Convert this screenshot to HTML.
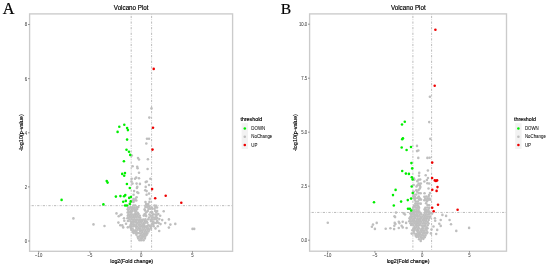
<!DOCTYPE html>
<html><head><meta charset="utf-8"><title>Volcano Plots</title>
<style>html,body{margin:0;padding:0;background:#fff;overflow:hidden;}svg{display:block;}</style>
</head><body>
<svg width="550" height="268" viewBox="0 0 550 268">
<style>
text{font-family:"Liberation Sans",Arial,sans-serif;}
.tk{font-size:4.27px;fill:#4d4d4d;stroke:#4d4d4d;stroke-width:0.06px;}
.ti{font-size:6.7px;fill:#000;stroke:#000;stroke-width:0.18px;}
.at{font-size:5.33px;fill:#000;stroke:#000;stroke-width:0.15px;}
.lt{font-size:5.33px;fill:#000;stroke:#000;stroke-width:0.15px;}
.lx{font-size:4.4px;fill:#111;stroke:#111;stroke-width:0.05px;}
.pl{font-family:"Liberation Serif",serif;font-size:16.2px;fill:#000;stroke:#000;stroke-width:0.2px;}
</style>
<rect width="550" height="268" fill="#fff"/>
<text x="2.7" y="13.7" class="pl">A</text>
<text x="280.8" y="13.5" class="pl" style="font-size:15.6px">B</text>
<line x1="131.2" y1="13.9" x2="131.2" y2="251.3" stroke="#8c8c8c" stroke-width="0.6" stroke-dasharray="0.6 1.4 2.2 1.4"/>
<line x1="151.6" y1="13.9" x2="151.6" y2="251.3" stroke="#8c8c8c" stroke-width="0.6" stroke-dasharray="0.6 1.4 2.2 1.4"/>
<line x1="29.6" y1="205.65" x2="232.6" y2="205.65" stroke="#8c8c8c" stroke-width="0.6" stroke-dasharray="0.6 1.4 2.2 1.4"/>
<circle cx="136.61" cy="197.2" r="1.28" fill="#bebebe"/>
<circle cx="133.45" cy="198.92" r="1.28" fill="#bebebe"/>
<circle cx="135.46" cy="198.9" r="1.28" fill="#bebebe"/>
<circle cx="132.53" cy="200.79" r="1.28" fill="#bebebe"/>
<circle cx="134.3" cy="200.43" r="1.28" fill="#bebebe"/>
<circle cx="136.31" cy="200.44" r="1.28" fill="#bebebe"/>
<circle cx="131.31" cy="202.03" r="1.28" fill="#bebebe"/>
<circle cx="133.47" cy="202.07" r="1.28" fill="#bebebe"/>
<circle cx="149.84" cy="198.81" r="1.28" fill="#bebebe"/>
<circle cx="145.49" cy="202.12" r="1.28" fill="#bebebe"/>
<circle cx="149.47" cy="201.89" r="1.28" fill="#bebebe"/>
<circle cx="146.16" cy="204.14" r="1.28" fill="#bebebe"/>
<circle cx="148.23" cy="204.05" r="1.28" fill="#bebebe"/>
<circle cx="146.68" cy="205.51" r="1.28" fill="#bebebe"/>
<circle cx="148.47" cy="205.72" r="1.28" fill="#bebebe"/>
<circle cx="154.54" cy="205.62" r="1.28" fill="#bebebe"/>
<circle cx="156.2" cy="205.83" r="1.28" fill="#bebebe"/>
<circle cx="145.41" cy="207.05" r="1.28" fill="#bebebe"/>
<circle cx="147.33" cy="207.29" r="1.28" fill="#bebebe"/>
<circle cx="149.49" cy="206.93" r="1.28" fill="#bebebe"/>
<circle cx="151.73" cy="207.5" r="1.28" fill="#bebebe"/>
<circle cx="155.57" cy="207.18" r="1.28" fill="#bebebe"/>
<circle cx="157.06" cy="207.51" r="1.28" fill="#bebebe"/>
<circle cx="144.62" cy="209.3" r="1.28" fill="#bebebe"/>
<circle cx="148.54" cy="208.99" r="1.28" fill="#bebebe"/>
<circle cx="150.29" cy="208.77" r="1.28" fill="#bebebe"/>
<circle cx="152.35" cy="208.77" r="1.28" fill="#bebebe"/>
<circle cx="154.52" cy="208.84" r="1.28" fill="#bebebe"/>
<circle cx="145.06" cy="210.51" r="1.28" fill="#bebebe"/>
<circle cx="147.74" cy="210.92" r="1.28" fill="#bebebe"/>
<circle cx="155.21" cy="210.88" r="1.28" fill="#bebebe"/>
<circle cx="157.17" cy="211.01" r="1.28" fill="#bebebe"/>
<circle cx="146.31" cy="212.35" r="1.28" fill="#bebebe"/>
<circle cx="150.67" cy="212.2" r="1.28" fill="#bebebe"/>
<circle cx="152.12" cy="212.14" r="1.28" fill="#bebebe"/>
<circle cx="156.29" cy="212.54" r="1.28" fill="#bebebe"/>
<circle cx="145.31" cy="214.25" r="1.28" fill="#bebebe"/>
<circle cx="149.45" cy="214.5" r="1.28" fill="#bebebe"/>
<circle cx="153.06" cy="214.32" r="1.28" fill="#bebebe"/>
<circle cx="155.13" cy="214.47" r="1.28" fill="#bebebe"/>
<circle cx="157.22" cy="214.54" r="1.28" fill="#bebebe"/>
<circle cx="146.22" cy="216.11" r="1.28" fill="#bebebe"/>
<circle cx="150.69" cy="215.8" r="1.28" fill="#bebebe"/>
<circle cx="152.38" cy="215.66" r="1.28" fill="#bebebe"/>
<circle cx="156.26" cy="216.01" r="1.28" fill="#bebebe"/>
<circle cx="149.13" cy="217.48" r="1.28" fill="#bebebe"/>
<circle cx="151.74" cy="217.71" r="1.28" fill="#bebebe"/>
<circle cx="153.51" cy="217.51" r="1.28" fill="#bebebe"/>
<circle cx="155.27" cy="217.5" r="1.28" fill="#bebebe"/>
<circle cx="157.25" cy="218.02" r="1.28" fill="#bebebe"/>
<circle cx="148.26" cy="219.3" r="1.28" fill="#bebebe"/>
<circle cx="150.64" cy="219.7" r="1.28" fill="#bebebe"/>
<circle cx="152.28" cy="219.45" r="1.28" fill="#bebebe"/>
<circle cx="154.47" cy="219.24" r="1.28" fill="#bebebe"/>
<circle cx="156.22" cy="219.12" r="1.28" fill="#bebebe"/>
<circle cx="151.16" cy="221.16" r="1.28" fill="#bebebe"/>
<circle cx="153.1" cy="221.47" r="1.28" fill="#bebebe"/>
<circle cx="157.27" cy="220.88" r="1.28" fill="#bebebe"/>
<circle cx="152.69" cy="223.14" r="1.28" fill="#bebebe"/>
<circle cx="154.53" cy="222.67" r="1.28" fill="#bebebe"/>
<circle cx="156.16" cy="223.05" r="1.28" fill="#bebebe"/>
<circle cx="151.65" cy="224.61" r="1.28" fill="#bebebe"/>
<circle cx="153.29" cy="224.47" r="1.28" fill="#bebebe"/>
<circle cx="133.43" cy="205.58" r="1.28" fill="#bebebe"/>
<circle cx="135.16" cy="205.52" r="1.28" fill="#bebebe"/>
<circle cx="128.26" cy="207.43" r="1.28" fill="#bebebe"/>
<circle cx="130.37" cy="207.37" r="1.28" fill="#bebebe"/>
<circle cx="132.41" cy="207.38" r="1.28" fill="#bebebe"/>
<circle cx="134.57" cy="207.49" r="1.28" fill="#bebebe"/>
<circle cx="136.82" cy="207.29" r="1.28" fill="#bebebe"/>
<circle cx="138.33" cy="207.04" r="1.28" fill="#bebebe"/>
<circle cx="127.69" cy="209.22" r="1.28" fill="#bebebe"/>
<circle cx="129.64" cy="208.94" r="1.28" fill="#bebebe"/>
<circle cx="131.83" cy="208.9" r="1.28" fill="#bebebe"/>
<circle cx="133.45" cy="208.75" r="1.28" fill="#bebebe"/>
<circle cx="135.24" cy="209.27" r="1.28" fill="#bebebe"/>
<circle cx="137.23" cy="209.05" r="1.28" fill="#bebebe"/>
<circle cx="128.33" cy="210.85" r="1.28" fill="#bebebe"/>
<circle cx="130.72" cy="211.05" r="1.28" fill="#bebebe"/>
<circle cx="132.49" cy="210.97" r="1.28" fill="#bebebe"/>
<circle cx="134.55" cy="210.64" r="1.28" fill="#bebebe"/>
<circle cx="136.23" cy="210.94" r="1.28" fill="#bebebe"/>
<circle cx="127.63" cy="212.45" r="1.28" fill="#bebebe"/>
<circle cx="129.41" cy="212.25" r="1.28" fill="#bebebe"/>
<circle cx="131.34" cy="212.53" r="1.28" fill="#bebebe"/>
<circle cx="135.47" cy="212.69" r="1.28" fill="#bebebe"/>
<circle cx="137.67" cy="212.8" r="1.28" fill="#bebebe"/>
<circle cx="128.6" cy="214.29" r="1.28" fill="#bebebe"/>
<circle cx="130.59" cy="214.29" r="1.28" fill="#bebebe"/>
<circle cx="132.7" cy="214.44" r="1.28" fill="#bebebe"/>
<circle cx="134.72" cy="214.27" r="1.28" fill="#bebebe"/>
<circle cx="136.34" cy="214.35" r="1.28" fill="#bebebe"/>
<circle cx="138.53" cy="213.96" r="1.28" fill="#bebebe"/>
<circle cx="144.67" cy="214.15" r="1.28" fill="#bebebe"/>
<circle cx="127.77" cy="215.78" r="1.28" fill="#bebebe"/>
<circle cx="129.73" cy="215.96" r="1.28" fill="#bebebe"/>
<circle cx="131.51" cy="216.11" r="1.28" fill="#bebebe"/>
<circle cx="133.61" cy="216.09" r="1.28" fill="#bebebe"/>
<circle cx="135.34" cy="216.02" r="1.28" fill="#bebebe"/>
<circle cx="137.54" cy="215.71" r="1.28" fill="#bebebe"/>
<circle cx="139.76" cy="215.82" r="1.28" fill="#bebebe"/>
<circle cx="143.74" cy="215.61" r="1.28" fill="#bebebe"/>
<circle cx="145.59" cy="215.81" r="1.28" fill="#bebebe"/>
<circle cx="128.66" cy="217.75" r="1.28" fill="#bebebe"/>
<circle cx="130.52" cy="217.43" r="1.28" fill="#bebebe"/>
<circle cx="132.65" cy="217.58" r="1.28" fill="#bebebe"/>
<circle cx="134.32" cy="217.83" r="1.28" fill="#bebebe"/>
<circle cx="136.36" cy="217.4" r="1.28" fill="#bebebe"/>
<circle cx="138.49" cy="217.4" r="1.28" fill="#bebebe"/>
<circle cx="140.19" cy="217.75" r="1.28" fill="#bebebe"/>
<circle cx="129.47" cy="219.48" r="1.28" fill="#bebebe"/>
<circle cx="131.65" cy="219.3" r="1.28" fill="#bebebe"/>
<circle cx="133.79" cy="219.77" r="1.28" fill="#bebebe"/>
<circle cx="135.71" cy="219.67" r="1.28" fill="#bebebe"/>
<circle cx="137.42" cy="219.48" r="1.28" fill="#bebebe"/>
<circle cx="139.43" cy="219.69" r="1.28" fill="#bebebe"/>
<circle cx="141.26" cy="219.71" r="1.28" fill="#bebebe"/>
<circle cx="143.25" cy="219.54" r="1.28" fill="#bebebe"/>
<circle cx="145.42" cy="219.16" r="1.28" fill="#bebebe"/>
<circle cx="130.6" cy="221.33" r="1.28" fill="#bebebe"/>
<circle cx="132.74" cy="221.27" r="1.28" fill="#bebebe"/>
<circle cx="134.59" cy="221.49" r="1.28" fill="#bebebe"/>
<circle cx="136.32" cy="220.85" r="1.28" fill="#bebebe"/>
<circle cx="138.56" cy="221.05" r="1.28" fill="#bebebe"/>
<circle cx="140.54" cy="221.18" r="1.28" fill="#bebebe"/>
<circle cx="142.4" cy="221.1" r="1.28" fill="#bebebe"/>
<circle cx="144.77" cy="221.11" r="1.28" fill="#bebebe"/>
<circle cx="146.65" cy="221.33" r="1.28" fill="#bebebe"/>
<circle cx="131.18" cy="222.92" r="1.28" fill="#bebebe"/>
<circle cx="133.24" cy="222.83" r="1.28" fill="#bebebe"/>
<circle cx="135.77" cy="222.57" r="1.28" fill="#bebebe"/>
<circle cx="137.21" cy="223.11" r="1.28" fill="#bebebe"/>
<circle cx="139.17" cy="222.82" r="1.28" fill="#bebebe"/>
<circle cx="141.37" cy="222.64" r="1.28" fill="#bebebe"/>
<circle cx="143.71" cy="223.15" r="1.28" fill="#bebebe"/>
<circle cx="145.45" cy="222.72" r="1.28" fill="#bebebe"/>
<circle cx="147.38" cy="222.79" r="1.28" fill="#bebebe"/>
<circle cx="130.64" cy="224.66" r="1.28" fill="#bebebe"/>
<circle cx="132.73" cy="224.49" r="1.28" fill="#bebebe"/>
<circle cx="134.41" cy="224.65" r="1.28" fill="#bebebe"/>
<circle cx="136.39" cy="224.69" r="1.28" fill="#bebebe"/>
<circle cx="138.72" cy="224.75" r="1.28" fill="#bebebe"/>
<circle cx="140.36" cy="224.54" r="1.28" fill="#bebebe"/>
<circle cx="142.67" cy="224.64" r="1.28" fill="#bebebe"/>
<circle cx="144.25" cy="224.93" r="1.28" fill="#bebebe"/>
<circle cx="148.49" cy="224.93" r="1.28" fill="#bebebe"/>
<circle cx="129.84" cy="226.58" r="1.28" fill="#bebebe"/>
<circle cx="131.67" cy="226.28" r="1.28" fill="#bebebe"/>
<circle cx="133.6" cy="226.31" r="1.28" fill="#bebebe"/>
<circle cx="135.84" cy="226.4" r="1.28" fill="#bebebe"/>
<circle cx="137.25" cy="226.51" r="1.28" fill="#bebebe"/>
<circle cx="139.78" cy="226.16" r="1.28" fill="#bebebe"/>
<circle cx="141.66" cy="226.07" r="1.28" fill="#bebebe"/>
<circle cx="143.53" cy="226.22" r="1.28" fill="#bebebe"/>
<circle cx="145.33" cy="226.47" r="1.28" fill="#bebebe"/>
<circle cx="147.2" cy="226.08" r="1.28" fill="#bebebe"/>
<circle cx="149.6" cy="226.15" r="1.28" fill="#bebebe"/>
<circle cx="151.17" cy="226.29" r="1.28" fill="#bebebe"/>
<circle cx="153.65" cy="226.23" r="1.28" fill="#bebebe"/>
<circle cx="130.77" cy="228.07" r="1.28" fill="#bebebe"/>
<circle cx="132.53" cy="228.43" r="1.28" fill="#bebebe"/>
<circle cx="136.33" cy="227.91" r="1.28" fill="#bebebe"/>
<circle cx="138.69" cy="228.13" r="1.28" fill="#bebebe"/>
<circle cx="140.43" cy="228.39" r="1.28" fill="#bebebe"/>
<circle cx="142.56" cy="227.8" r="1.28" fill="#bebebe"/>
<circle cx="144.47" cy="227.9" r="1.28" fill="#bebebe"/>
<circle cx="146.63" cy="227.77" r="1.28" fill="#bebebe"/>
<circle cx="148.36" cy="228.39" r="1.28" fill="#bebebe"/>
<circle cx="150.83" cy="228.15" r="1.28" fill="#bebebe"/>
<circle cx="131.36" cy="229.86" r="1.28" fill="#bebebe"/>
<circle cx="133.53" cy="230.19" r="1.28" fill="#bebebe"/>
<circle cx="135.6" cy="230.21" r="1.28" fill="#bebebe"/>
<circle cx="137.55" cy="229.77" r="1.28" fill="#bebebe"/>
<circle cx="139.81" cy="230.14" r="1.28" fill="#bebebe"/>
<circle cx="141.78" cy="230.16" r="1.28" fill="#bebebe"/>
<circle cx="143.42" cy="229.84" r="1.28" fill="#bebebe"/>
<circle cx="145.41" cy="230.03" r="1.28" fill="#bebebe"/>
<circle cx="147.39" cy="229.83" r="1.28" fill="#bebebe"/>
<circle cx="149.4" cy="229.8" r="1.28" fill="#bebebe"/>
<circle cx="132.67" cy="231.73" r="1.28" fill="#bebebe"/>
<circle cx="134.69" cy="231.59" r="1.28" fill="#bebebe"/>
<circle cx="136.49" cy="231.93" r="1.28" fill="#bebebe"/>
<circle cx="140.31" cy="231.27" r="1.28" fill="#bebebe"/>
<circle cx="142.49" cy="231.92" r="1.28" fill="#bebebe"/>
<circle cx="144.66" cy="231.83" r="1.28" fill="#bebebe"/>
<circle cx="146.58" cy="231.95" r="1.28" fill="#bebebe"/>
<circle cx="148.52" cy="231.49" r="1.28" fill="#bebebe"/>
<circle cx="133.62" cy="233.05" r="1.28" fill="#bebebe"/>
<circle cx="135.62" cy="233.2" r="1.28" fill="#bebebe"/>
<circle cx="137.78" cy="233.07" r="1.28" fill="#bebebe"/>
<circle cx="139.22" cy="233.26" r="1.28" fill="#bebebe"/>
<circle cx="141.29" cy="233.35" r="1.28" fill="#bebebe"/>
<circle cx="143.77" cy="233.68" r="1.28" fill="#bebebe"/>
<circle cx="145.49" cy="233.62" r="1.28" fill="#bebebe"/>
<circle cx="147.3" cy="233.52" r="1.28" fill="#bebebe"/>
<circle cx="136.44" cy="234.82" r="1.28" fill="#bebebe"/>
<circle cx="140.52" cy="235.16" r="1.28" fill="#bebebe"/>
<circle cx="142.44" cy="234.93" r="1.28" fill="#bebebe"/>
<circle cx="144.34" cy="234.88" r="1.28" fill="#bebebe"/>
<circle cx="146.48" cy="234.97" r="1.28" fill="#bebebe"/>
<circle cx="137.64" cy="236.86" r="1.28" fill="#bebebe"/>
<circle cx="139.31" cy="236.61" r="1.28" fill="#bebebe"/>
<circle cx="141.77" cy="236.77" r="1.28" fill="#bebebe"/>
<circle cx="143.16" cy="236.68" r="1.28" fill="#bebebe"/>
<circle cx="145.21" cy="236.63" r="1.28" fill="#bebebe"/>
<circle cx="138.25" cy="238.49" r="1.28" fill="#bebebe"/>
<circle cx="140.6" cy="238.38" r="1.28" fill="#bebebe"/>
<circle cx="142.34" cy="238.57" r="1.28" fill="#bebebe"/>
<circle cx="144.81" cy="238.46" r="1.28" fill="#bebebe"/>
<circle cx="139.52" cy="240.28" r="1.28" fill="#bebebe"/>
<circle cx="141.22" cy="240.21" r="1.28" fill="#bebebe"/>
<circle cx="143.53" cy="240.33" r="1.28" fill="#bebebe"/>
<circle cx="158.32" cy="213.96" r="1.28" fill="#bebebe"/>
<circle cx="159.27" cy="219.11" r="1.28" fill="#bebebe"/>
<circle cx="157.17" cy="222.14" r="1.28" fill="#bebebe"/>
<circle cx="160.53" cy="224.1" r="1.28" fill="#bebebe"/>
<circle cx="157.8" cy="226.24" r="1.28" fill="#bebebe"/>
<circle cx="126.04" cy="223.66" r="1.28" fill="#bebebe"/>
<circle cx="127.81" cy="227.37" r="1.28" fill="#bebebe"/>
<circle cx="151.5" cy="108.4" r="1.28" fill="#bebebe"/>
<circle cx="149.3" cy="117.6" r="1.28" fill="#bebebe"/>
<circle cx="147" cy="138.8" r="1.28" fill="#bebebe"/>
<circle cx="149" cy="138.8" r="1.28" fill="#bebebe"/>
<circle cx="146.3" cy="143.5" r="1.28" fill="#bebebe"/>
<circle cx="131.8" cy="155.5" r="1.28" fill="#bebebe"/>
<circle cx="138" cy="158" r="1.28" fill="#bebebe"/>
<circle cx="139" cy="159.5" r="1.28" fill="#bebebe"/>
<circle cx="147.9" cy="159.2" r="1.28" fill="#bebebe"/>
<circle cx="132.6" cy="166.3" r="1.28" fill="#bebebe"/>
<circle cx="137.2" cy="166.7" r="1.28" fill="#bebebe"/>
<circle cx="137.6" cy="168.3" r="1.28" fill="#bebebe"/>
<circle cx="147.6" cy="169" r="1.28" fill="#bebebe"/>
<circle cx="139" cy="172.7" r="1.28" fill="#bebebe"/>
<circle cx="131.7" cy="178.7" r="1.28" fill="#bebebe"/>
<circle cx="135" cy="178.7" r="1.28" fill="#bebebe"/>
<circle cx="136.2" cy="177.6" r="1.28" fill="#bebebe"/>
<circle cx="139" cy="178.3" r="1.28" fill="#bebebe"/>
<circle cx="150.4" cy="178.7" r="1.28" fill="#bebebe"/>
<circle cx="131.5" cy="181.5" r="1.28" fill="#bebebe"/>
<circle cx="132.5" cy="183.6" r="1.28" fill="#bebebe"/>
<circle cx="136.6" cy="183.6" r="1.28" fill="#bebebe"/>
<circle cx="139.9" cy="183.9" r="1.28" fill="#bebebe"/>
<circle cx="145.7" cy="182.1" r="1.28" fill="#bebebe"/>
<circle cx="146.8" cy="181.6" r="1.28" fill="#bebebe"/>
<circle cx="149" cy="185" r="1.28" fill="#bebebe"/>
<circle cx="137.3" cy="186.9" r="1.28" fill="#bebebe"/>
<circle cx="136.9" cy="188" r="1.28" fill="#bebebe"/>
<circle cx="145.7" cy="186.9" r="1.28" fill="#bebebe"/>
<circle cx="145.2" cy="190.2" r="1.28" fill="#bebebe"/>
<circle cx="146.6" cy="191.1" r="1.28" fill="#bebebe"/>
<circle cx="134.1" cy="191.1" r="1.28" fill="#bebebe"/>
<circle cx="137.3" cy="192.3" r="1.28" fill="#bebebe"/>
<circle cx="138.3" cy="193" r="1.28" fill="#bebebe"/>
<circle cx="149" cy="193.6" r="1.28" fill="#bebebe"/>
<circle cx="146.6" cy="194.8" r="1.28" fill="#bebebe"/>
<circle cx="133.6" cy="194.8" r="1.28" fill="#bebebe"/>
<circle cx="73.4" cy="218.4" r="1.28" fill="#bebebe"/>
<circle cx="93.5" cy="224.4" r="1.28" fill="#bebebe"/>
<circle cx="104.5" cy="226" r="1.28" fill="#bebebe"/>
<circle cx="116.5" cy="213.4" r="1.28" fill="#bebebe"/>
<circle cx="118.7" cy="216.2" r="1.28" fill="#bebebe"/>
<circle cx="120.6" cy="215.1" r="1.28" fill="#bebebe"/>
<circle cx="121.5" cy="214.5" r="1.28" fill="#bebebe"/>
<circle cx="124" cy="218.2" r="1.28" fill="#bebebe"/>
<circle cx="127.4" cy="218.2" r="1.28" fill="#bebebe"/>
<circle cx="124.3" cy="220.7" r="1.28" fill="#bebebe"/>
<circle cx="127.9" cy="221" r="1.28" fill="#bebebe"/>
<circle cx="118.4" cy="222.6" r="1.28" fill="#bebebe"/>
<circle cx="120.3" cy="225.2" r="1.28" fill="#bebebe"/>
<circle cx="122.3" cy="225.4" r="1.28" fill="#bebebe"/>
<circle cx="123.2" cy="227.4" r="1.28" fill="#bebebe"/>
<circle cx="163.7" cy="211.2" r="1.28" fill="#bebebe"/>
<circle cx="160.2" cy="215.7" r="1.28" fill="#bebebe"/>
<circle cx="168.9" cy="219.4" r="1.28" fill="#bebebe"/>
<circle cx="162.2" cy="220.1" r="1.28" fill="#bebebe"/>
<circle cx="165.2" cy="223.1" r="1.28" fill="#bebebe"/>
<circle cx="175.3" cy="223.9" r="1.28" fill="#bebebe"/>
<circle cx="170.4" cy="224.6" r="1.28" fill="#bebebe"/>
<circle cx="168.9" cy="227.6" r="1.28" fill="#bebebe"/>
<circle cx="158.7" cy="223.1" r="1.28" fill="#bebebe"/>
<circle cx="159.2" cy="231" r="1.28" fill="#bebebe"/>
<circle cx="155.5" cy="228.4" r="1.28" fill="#bebebe"/>
<circle cx="192.5" cy="228.9" r="1.28" fill="#bebebe"/>
<circle cx="194.2" cy="228.9" r="1.28" fill="#bebebe"/>
<circle cx="119.3" cy="126.7" r="1.28" fill="#00ee00"/>
<circle cx="124.3" cy="124.8" r="1.28" fill="#00ee00"/>
<circle cx="127.1" cy="128" r="1.28" fill="#00ee00"/>
<circle cx="127.9" cy="130.1" r="1.28" fill="#00ee00"/>
<circle cx="117.6" cy="131.9" r="1.28" fill="#00ee00"/>
<circle cx="127.1" cy="139.6" r="1.28" fill="#00ee00"/>
<circle cx="126.5" cy="149.8" r="1.28" fill="#00ee00"/>
<circle cx="129" cy="151.7" r="1.28" fill="#00ee00"/>
<circle cx="130.2" cy="154.9" r="1.28" fill="#00ee00"/>
<circle cx="123.9" cy="161.3" r="1.28" fill="#00ee00"/>
<circle cx="122.2" cy="173.9" r="1.28" fill="#00ee00"/>
<circle cx="125" cy="173.1" r="1.28" fill="#00ee00"/>
<circle cx="124.2" cy="175.8" r="1.28" fill="#00ee00"/>
<circle cx="106.7" cy="181" r="1.28" fill="#00ee00"/>
<circle cx="107.6" cy="182.6" r="1.28" fill="#00ee00"/>
<circle cx="126.9" cy="184" r="1.28" fill="#00ee00"/>
<circle cx="129.8" cy="188" r="1.28" fill="#00ee00"/>
<circle cx="115.9" cy="196.6" r="1.28" fill="#00ee00"/>
<circle cx="120.4" cy="196.1" r="1.28" fill="#00ee00"/>
<circle cx="124.1" cy="196.2" r="1.28" fill="#00ee00"/>
<circle cx="125.3" cy="195.1" r="1.28" fill="#00ee00"/>
<circle cx="129.2" cy="197.9" r="1.28" fill="#00ee00"/>
<circle cx="131" cy="197" r="1.28" fill="#00ee00"/>
<circle cx="125.8" cy="200.9" r="1.28" fill="#00ee00"/>
<circle cx="123.2" cy="201.8" r="1.28" fill="#00ee00"/>
<circle cx="130.7" cy="201.4" r="1.28" fill="#00ee00"/>
<circle cx="129.8" cy="203.9" r="1.28" fill="#00ee00"/>
<circle cx="125.1" cy="205.5" r="1.28" fill="#00ee00"/>
<circle cx="126.9" cy="205.5" r="1.28" fill="#00ee00"/>
<circle cx="103.4" cy="204.4" r="1.28" fill="#00ee00"/>
<circle cx="61.6" cy="199.9" r="1.28" fill="#00ee00"/>
<circle cx="153.7" cy="68.9" r="1.28" fill="#ee0000"/>
<circle cx="153" cy="127.8" r="1.28" fill="#ee0000"/>
<circle cx="152.5" cy="149.6" r="1.28" fill="#ee0000"/>
<circle cx="152.1" cy="189.1" r="1.28" fill="#ee0000"/>
<circle cx="155.2" cy="198.3" r="1.28" fill="#ee0000"/>
<circle cx="165.7" cy="195.7" r="1.28" fill="#ee0000"/>
<circle cx="181.3" cy="202.7" r="1.28" fill="#ee0000"/>
<rect x="29.6" y="13.9" width="203" height="237.4" fill="none" stroke="#cbcbcb" stroke-width="1.35"/>
<line x1="38.7" y1="251.3" x2="38.7" y2="252.9" stroke="#4d4d4d" stroke-width="0.6"/>
<text x="0" y="0" class="tk" text-anchor="middle" transform="translate(38.7,257.25) scale(1,1.08)">&#8722;10</text>
<line x1="89.95" y1="251.3" x2="89.95" y2="252.9" stroke="#4d4d4d" stroke-width="0.6"/>
<text x="0" y="0" class="tk" text-anchor="middle" transform="translate(89.95,257.25) scale(1,1.08)">&#8722;5</text>
<line x1="141.2" y1="251.3" x2="141.2" y2="252.9" stroke="#4d4d4d" stroke-width="0.6"/>
<text x="0" y="0" class="tk" text-anchor="middle" transform="translate(141.2,257.25) scale(1,1.08)">0</text>
<line x1="192.45" y1="251.3" x2="192.45" y2="252.9" stroke="#4d4d4d" stroke-width="0.6"/>
<text x="0" y="0" class="tk" text-anchor="middle" transform="translate(192.45,257.25) scale(1,1.08)">5</text>
<line x1="28" y1="241" x2="29.6" y2="241" stroke="#4d4d4d" stroke-width="0.6"/>
<text x="0" y="0" class="tk" text-anchor="end" transform="translate(27.2,242.9) scale(1,1.08)">0</text>
<line x1="28" y1="186.88" x2="29.6" y2="186.88" stroke="#4d4d4d" stroke-width="0.6"/>
<text x="0" y="0" class="tk" text-anchor="end" transform="translate(27.2,188.78) scale(1,1.08)">2</text>
<line x1="28" y1="132.76" x2="29.6" y2="132.76" stroke="#4d4d4d" stroke-width="0.6"/>
<text x="0" y="0" class="tk" text-anchor="end" transform="translate(27.2,134.66) scale(1,1.08)">4</text>
<line x1="28" y1="78.64" x2="29.6" y2="78.64" stroke="#4d4d4d" stroke-width="0.6"/>
<text x="0" y="0" class="tk" text-anchor="end" transform="translate(27.2,80.54) scale(1,1.08)">6</text>
<line x1="28" y1="24.52" x2="29.6" y2="24.52" stroke="#4d4d4d" stroke-width="0.6"/>
<text x="0" y="0" class="tk" text-anchor="end" transform="translate(27.2,26.42) scale(1,1.08)">8</text>
<text x="113.8" y="9.8" class="ti" textLength="34.8" lengthAdjust="spacingAndGlyphs">Volcano Plot</text>
<text x="0" y="0" class="at" text-anchor="middle" transform="translate(131.7,263.2) scale(1,1.08)">log2(Fold change)</text>
<text x="0" y="0" class="at" style="font-size:5.52px" text-anchor="middle" transform="translate(23.3,132.8) rotate(-90)">-log10(p-value)</text>
<text x="0" y="0" class="lt" transform="translate(240.4,121.1) scale(1,1.08)">threshold</text>
<rect x="241.6" y="123.2" width="6.4" height="25.8" fill="#f2f2f2"/>
<circle cx="244.8" cy="128.5" r="1.28" fill="#00ee00"/>
<text x="0" y="0" class="lx" transform="translate(251.3,130.1) scale(1,1.08)">DOWN</text>
<circle cx="244.8" cy="136.75" r="1.28" fill="#bebebe"/>
<text x="0" y="0" class="lx" transform="translate(251.3,138.35) scale(1,1.08)">NoChange</text>
<circle cx="244.8" cy="145" r="1.28" fill="#ee0000"/>
<text x="0" y="0" class="lx" transform="translate(251.3,146.6) scale(1,1.08)">UP</text>
<line x1="412.9" y1="13.9" x2="412.9" y2="251.2" stroke="#8c8c8c" stroke-width="0.6" stroke-dasharray="0.6 1.4 2.2 1.4"/>
<line x1="431.6" y1="13.9" x2="431.6" y2="251.2" stroke="#8c8c8c" stroke-width="0.6" stroke-dasharray="0.6 1.4 2.2 1.4"/>
<line x1="309.6" y1="212.45" x2="506.5" y2="212.45" stroke="#8c8c8c" stroke-width="0.6" stroke-dasharray="0.6 1.4 2.2 1.4"/>
<circle cx="413.82" cy="178.31" r="1.28" fill="#bebebe"/>
<circle cx="414.26" cy="179.69" r="1.28" fill="#bebebe"/>
<circle cx="418.53" cy="179.7" r="1.28" fill="#bebebe"/>
<circle cx="420.18" cy="179.41" r="1.28" fill="#bebebe"/>
<circle cx="417.32" cy="181.15" r="1.28" fill="#bebebe"/>
<circle cx="418.68" cy="183.42" r="1.28" fill="#bebebe"/>
<circle cx="420.84" cy="183.54" r="1.28" fill="#bebebe"/>
<circle cx="413.68" cy="185.11" r="1.28" fill="#bebebe"/>
<circle cx="417.5" cy="185.19" r="1.28" fill="#bebebe"/>
<circle cx="419.77" cy="185.24" r="1.28" fill="#bebebe"/>
<circle cx="416.49" cy="186.51" r="1.28" fill="#bebebe"/>
<circle cx="420.34" cy="186.99" r="1.28" fill="#bebebe"/>
<circle cx="419.8" cy="188.53" r="1.28" fill="#bebebe"/>
<circle cx="416.28" cy="190.35" r="1.28" fill="#bebebe"/>
<circle cx="418.61" cy="190.02" r="1.28" fill="#bebebe"/>
<circle cx="413.75" cy="191.74" r="1.28" fill="#bebebe"/>
<circle cx="417.17" cy="191.82" r="1.28" fill="#bebebe"/>
<circle cx="418.78" cy="193.13" r="1.28" fill="#bebebe"/>
<circle cx="420.68" cy="193.34" r="1.28" fill="#bebebe"/>
<circle cx="413.68" cy="194.63" r="1.28" fill="#bebebe"/>
<circle cx="416.17" cy="194.47" r="1.28" fill="#bebebe"/>
<circle cx="413.25" cy="196.62" r="1.28" fill="#bebebe"/>
<circle cx="414.81" cy="196.59" r="1.28" fill="#bebebe"/>
<circle cx="418.74" cy="196.54" r="1.28" fill="#bebebe"/>
<circle cx="413.83" cy="198.29" r="1.28" fill="#bebebe"/>
<circle cx="415.66" cy="198.26" r="1.28" fill="#bebebe"/>
<circle cx="417.69" cy="197.89" r="1.28" fill="#bebebe"/>
<circle cx="419.72" cy="198.31" r="1.28" fill="#bebebe"/>
<circle cx="414.81" cy="199.92" r="1.28" fill="#bebebe"/>
<circle cx="419.15" cy="199.79" r="1.28" fill="#bebebe"/>
<circle cx="421.02" cy="199.61" r="1.28" fill="#bebebe"/>
<circle cx="415.82" cy="201.42" r="1.28" fill="#bebebe"/>
<circle cx="417.81" cy="201.5" r="1.28" fill="#bebebe"/>
<circle cx="415.32" cy="203.6" r="1.28" fill="#bebebe"/>
<circle cx="417.01" cy="203.5" r="1.28" fill="#bebebe"/>
<circle cx="418.94" cy="203.46" r="1.28" fill="#bebebe"/>
<circle cx="420.72" cy="203.65" r="1.28" fill="#bebebe"/>
<circle cx="414.01" cy="205.48" r="1.28" fill="#bebebe"/>
<circle cx="415.85" cy="205.52" r="1.28" fill="#bebebe"/>
<circle cx="417.66" cy="205.31" r="1.28" fill="#bebebe"/>
<circle cx="428" cy="178.06" r="1.28" fill="#bebebe"/>
<circle cx="426.9" cy="179.92" r="1.28" fill="#bebebe"/>
<circle cx="424.38" cy="181.41" r="1.28" fill="#bebebe"/>
<circle cx="427.36" cy="183.22" r="1.28" fill="#bebebe"/>
<circle cx="429.17" cy="183.43" r="1.28" fill="#bebebe"/>
<circle cx="428.54" cy="188.54" r="1.28" fill="#bebebe"/>
<circle cx="424.55" cy="193.2" r="1.28" fill="#bebebe"/>
<circle cx="429.98" cy="193.01" r="1.28" fill="#bebebe"/>
<circle cx="429.08" cy="194.91" r="1.28" fill="#bebebe"/>
<circle cx="424.38" cy="196.73" r="1.28" fill="#bebebe"/>
<circle cx="426.28" cy="196.41" r="1.28" fill="#bebebe"/>
<circle cx="428.53" cy="196.57" r="1.28" fill="#bebebe"/>
<circle cx="425.31" cy="198.44" r="1.28" fill="#bebebe"/>
<circle cx="427.51" cy="198.38" r="1.28" fill="#bebebe"/>
<circle cx="429.48" cy="198.49" r="1.28" fill="#bebebe"/>
<circle cx="424.42" cy="200.15" r="1.28" fill="#bebebe"/>
<circle cx="426.37" cy="200.02" r="1.28" fill="#bebebe"/>
<circle cx="428.41" cy="199.71" r="1.28" fill="#bebebe"/>
<circle cx="430.15" cy="199.79" r="1.28" fill="#bebebe"/>
<circle cx="426.9" cy="201.35" r="1.28" fill="#bebebe"/>
<circle cx="426.08" cy="203.28" r="1.28" fill="#bebebe"/>
<circle cx="427.45" cy="204.92" r="1.28" fill="#bebebe"/>
<circle cx="429.12" cy="205.16" r="1.28" fill="#bebebe"/>
<circle cx="414.36" cy="206.26" r="1.28" fill="#bebebe"/>
<circle cx="418.43" cy="206.29" r="1.28" fill="#bebebe"/>
<circle cx="413.37" cy="207.55" r="1.28" fill="#bebebe"/>
<circle cx="415.72" cy="207.47" r="1.28" fill="#bebebe"/>
<circle cx="417.32" cy="207.65" r="1.28" fill="#bebebe"/>
<circle cx="419.1" cy="207.71" r="1.28" fill="#bebebe"/>
<circle cx="425.36" cy="207.84" r="1.28" fill="#bebebe"/>
<circle cx="427.28" cy="207.46" r="1.28" fill="#bebebe"/>
<circle cx="429.18" cy="207.86" r="1.28" fill="#bebebe"/>
<circle cx="412.49" cy="209.41" r="1.28" fill="#bebebe"/>
<circle cx="414.29" cy="209.75" r="1.28" fill="#bebebe"/>
<circle cx="416.4" cy="209.61" r="1.28" fill="#bebebe"/>
<circle cx="418.57" cy="209.66" r="1.28" fill="#bebebe"/>
<circle cx="424.52" cy="209.39" r="1.28" fill="#bebebe"/>
<circle cx="426.17" cy="209.8" r="1.28" fill="#bebebe"/>
<circle cx="428.38" cy="209.76" r="1.28" fill="#bebebe"/>
<circle cx="411.3" cy="211.51" r="1.28" fill="#bebebe"/>
<circle cx="413.58" cy="211.18" r="1.28" fill="#bebebe"/>
<circle cx="415.22" cy="211.45" r="1.28" fill="#bebebe"/>
<circle cx="417.25" cy="211.32" r="1.28" fill="#bebebe"/>
<circle cx="419.27" cy="211.52" r="1.28" fill="#bebebe"/>
<circle cx="425.23" cy="211.11" r="1.28" fill="#bebebe"/>
<circle cx="427.22" cy="211.3" r="1.28" fill="#bebebe"/>
<circle cx="429.31" cy="211.41" r="1.28" fill="#bebebe"/>
<circle cx="410.35" cy="213.16" r="1.28" fill="#bebebe"/>
<circle cx="412.42" cy="213.2" r="1.28" fill="#bebebe"/>
<circle cx="414.59" cy="213.04" r="1.28" fill="#bebebe"/>
<circle cx="416.75" cy="212.88" r="1.28" fill="#bebebe"/>
<circle cx="418.48" cy="212.83" r="1.28" fill="#bebebe"/>
<circle cx="420.47" cy="213.02" r="1.28" fill="#bebebe"/>
<circle cx="424.64" cy="212.93" r="1.28" fill="#bebebe"/>
<circle cx="426.42" cy="212.64" r="1.28" fill="#bebebe"/>
<circle cx="428.75" cy="212.7" r="1.28" fill="#bebebe"/>
<circle cx="430.53" cy="213.25" r="1.28" fill="#bebebe"/>
<circle cx="411.06" cy="214.42" r="1.28" fill="#bebebe"/>
<circle cx="413.17" cy="214.45" r="1.28" fill="#bebebe"/>
<circle cx="415.11" cy="215.03" r="1.28" fill="#bebebe"/>
<circle cx="417.08" cy="214.98" r="1.28" fill="#bebebe"/>
<circle cx="419.39" cy="214.74" r="1.28" fill="#bebebe"/>
<circle cx="421.4" cy="214.39" r="1.28" fill="#bebebe"/>
<circle cx="423.69" cy="214.93" r="1.28" fill="#bebebe"/>
<circle cx="425.53" cy="214.96" r="1.28" fill="#bebebe"/>
<circle cx="427.39" cy="214.44" r="1.28" fill="#bebebe"/>
<circle cx="429.13" cy="214.5" r="1.28" fill="#bebebe"/>
<circle cx="410.49" cy="216.69" r="1.28" fill="#bebebe"/>
<circle cx="412.55" cy="216.44" r="1.28" fill="#bebebe"/>
<circle cx="414.16" cy="216.16" r="1.28" fill="#bebebe"/>
<circle cx="416.49" cy="216.24" r="1.28" fill="#bebebe"/>
<circle cx="418.26" cy="216.39" r="1.28" fill="#bebebe"/>
<circle cx="420.33" cy="216.65" r="1.28" fill="#bebebe"/>
<circle cx="422.44" cy="216.42" r="1.28" fill="#bebebe"/>
<circle cx="424.59" cy="216.78" r="1.28" fill="#bebebe"/>
<circle cx="426.54" cy="216.58" r="1.28" fill="#bebebe"/>
<circle cx="428.07" cy="216.48" r="1.28" fill="#bebebe"/>
<circle cx="430.19" cy="216.5" r="1.28" fill="#bebebe"/>
<circle cx="409.49" cy="218.35" r="1.28" fill="#bebebe"/>
<circle cx="411.38" cy="217.86" r="1.28" fill="#bebebe"/>
<circle cx="413.63" cy="218.41" r="1.28" fill="#bebebe"/>
<circle cx="415.08" cy="217.97" r="1.28" fill="#bebebe"/>
<circle cx="417.5" cy="218.21" r="1.28" fill="#bebebe"/>
<circle cx="419.72" cy="218.51" r="1.28" fill="#bebebe"/>
<circle cx="421.37" cy="218.03" r="1.28" fill="#bebebe"/>
<circle cx="423.63" cy="218.32" r="1.28" fill="#bebebe"/>
<circle cx="425.68" cy="218.23" r="1.28" fill="#bebebe"/>
<circle cx="427.34" cy="218.33" r="1.28" fill="#bebebe"/>
<circle cx="429.51" cy="217.92" r="1.28" fill="#bebebe"/>
<circle cx="410.2" cy="219.8" r="1.28" fill="#bebebe"/>
<circle cx="412.32" cy="219.94" r="1.28" fill="#bebebe"/>
<circle cx="414.19" cy="220.11" r="1.28" fill="#bebebe"/>
<circle cx="416.6" cy="219.88" r="1.28" fill="#bebebe"/>
<circle cx="418.29" cy="219.9" r="1.28" fill="#bebebe"/>
<circle cx="420.18" cy="219.9" r="1.28" fill="#bebebe"/>
<circle cx="422.38" cy="219.97" r="1.28" fill="#bebebe"/>
<circle cx="424.17" cy="219.99" r="1.28" fill="#bebebe"/>
<circle cx="426.21" cy="220" r="1.28" fill="#bebebe"/>
<circle cx="428.67" cy="220.05" r="1.28" fill="#bebebe"/>
<circle cx="409.26" cy="221.32" r="1.28" fill="#bebebe"/>
<circle cx="411.19" cy="221.53" r="1.28" fill="#bebebe"/>
<circle cx="413.23" cy="221.82" r="1.28" fill="#bebebe"/>
<circle cx="415.36" cy="221.6" r="1.28" fill="#bebebe"/>
<circle cx="417.06" cy="221.72" r="1.28" fill="#bebebe"/>
<circle cx="419.16" cy="221.73" r="1.28" fill="#bebebe"/>
<circle cx="421.1" cy="221.72" r="1.28" fill="#bebebe"/>
<circle cx="423.5" cy="221.66" r="1.28" fill="#bebebe"/>
<circle cx="425.69" cy="221.42" r="1.28" fill="#bebebe"/>
<circle cx="427.73" cy="221.96" r="1.28" fill="#bebebe"/>
<circle cx="410.42" cy="223.21" r="1.28" fill="#bebebe"/>
<circle cx="412.09" cy="223.52" r="1.28" fill="#bebebe"/>
<circle cx="414.49" cy="223.32" r="1.28" fill="#bebebe"/>
<circle cx="416.73" cy="223.32" r="1.28" fill="#bebebe"/>
<circle cx="418.32" cy="223.2" r="1.28" fill="#bebebe"/>
<circle cx="420.42" cy="223.62" r="1.28" fill="#bebebe"/>
<circle cx="422.71" cy="223.52" r="1.28" fill="#bebebe"/>
<circle cx="424.54" cy="223.33" r="1.28" fill="#bebebe"/>
<circle cx="426.12" cy="223.41" r="1.28" fill="#bebebe"/>
<circle cx="428.6" cy="223.46" r="1.28" fill="#bebebe"/>
<circle cx="411.14" cy="224.89" r="1.28" fill="#bebebe"/>
<circle cx="413.43" cy="225.22" r="1.28" fill="#bebebe"/>
<circle cx="415.71" cy="224.86" r="1.28" fill="#bebebe"/>
<circle cx="417.11" cy="225.26" r="1.28" fill="#bebebe"/>
<circle cx="419.15" cy="225.01" r="1.28" fill="#bebebe"/>
<circle cx="421.38" cy="225.45" r="1.28" fill="#bebebe"/>
<circle cx="423.29" cy="225.44" r="1.28" fill="#bebebe"/>
<circle cx="425.12" cy="225.34" r="1.28" fill="#bebebe"/>
<circle cx="427.71" cy="225.24" r="1.28" fill="#bebebe"/>
<circle cx="414.55" cy="227.13" r="1.28" fill="#bebebe"/>
<circle cx="416.43" cy="226.96" r="1.28" fill="#bebebe"/>
<circle cx="418.34" cy="227.08" r="1.28" fill="#bebebe"/>
<circle cx="422.63" cy="227" r="1.28" fill="#bebebe"/>
<circle cx="424.68" cy="226.56" r="1.28" fill="#bebebe"/>
<circle cx="426.6" cy="227.16" r="1.28" fill="#bebebe"/>
<circle cx="413.4" cy="228.47" r="1.28" fill="#bebebe"/>
<circle cx="415.09" cy="228.63" r="1.28" fill="#bebebe"/>
<circle cx="417.33" cy="228.91" r="1.28" fill="#bebebe"/>
<circle cx="419.35" cy="228.59" r="1.28" fill="#bebebe"/>
<circle cx="421.73" cy="228.67" r="1.28" fill="#bebebe"/>
<circle cx="423.36" cy="228.58" r="1.28" fill="#bebebe"/>
<circle cx="425.61" cy="228.72" r="1.28" fill="#bebebe"/>
<circle cx="427.47" cy="228.36" r="1.28" fill="#bebebe"/>
<circle cx="412.36" cy="230.34" r="1.28" fill="#bebebe"/>
<circle cx="414.24" cy="230.16" r="1.28" fill="#bebebe"/>
<circle cx="416.72" cy="230.58" r="1.28" fill="#bebebe"/>
<circle cx="418.07" cy="230.22" r="1.28" fill="#bebebe"/>
<circle cx="420.73" cy="230.39" r="1.28" fill="#bebebe"/>
<circle cx="422.53" cy="230.18" r="1.28" fill="#bebebe"/>
<circle cx="424.31" cy="230.6" r="1.28" fill="#bebebe"/>
<circle cx="426.51" cy="230.4" r="1.28" fill="#bebebe"/>
<circle cx="413.72" cy="231.83" r="1.28" fill="#bebebe"/>
<circle cx="417.73" cy="232.02" r="1.28" fill="#bebebe"/>
<circle cx="419.59" cy="232.24" r="1.28" fill="#bebebe"/>
<circle cx="421.61" cy="231.99" r="1.28" fill="#bebebe"/>
<circle cx="423.52" cy="232.2" r="1.28" fill="#bebebe"/>
<circle cx="425.4" cy="232.44" r="1.28" fill="#bebebe"/>
<circle cx="427.33" cy="232.39" r="1.28" fill="#bebebe"/>
<circle cx="414.37" cy="233.57" r="1.28" fill="#bebebe"/>
<circle cx="416.3" cy="233.91" r="1.28" fill="#bebebe"/>
<circle cx="418.18" cy="234.07" r="1.28" fill="#bebebe"/>
<circle cx="420.11" cy="233.91" r="1.28" fill="#bebebe"/>
<circle cx="422.69" cy="233.8" r="1.28" fill="#bebebe"/>
<circle cx="424.06" cy="233.51" r="1.28" fill="#bebebe"/>
<circle cx="426.55" cy="233.53" r="1.28" fill="#bebebe"/>
<circle cx="415.63" cy="235.63" r="1.28" fill="#bebebe"/>
<circle cx="417.38" cy="235.43" r="1.28" fill="#bebebe"/>
<circle cx="419.45" cy="235.4" r="1.28" fill="#bebebe"/>
<circle cx="421.74" cy="235.36" r="1.28" fill="#bebebe"/>
<circle cx="423.62" cy="235.74" r="1.28" fill="#bebebe"/>
<circle cx="425.46" cy="235.4" r="1.28" fill="#bebebe"/>
<circle cx="416.6" cy="237.06" r="1.28" fill="#bebebe"/>
<circle cx="418.54" cy="236.97" r="1.28" fill="#bebebe"/>
<circle cx="420.6" cy="237.11" r="1.28" fill="#bebebe"/>
<circle cx="422.33" cy="237.56" r="1.28" fill="#bebebe"/>
<circle cx="424.66" cy="237.18" r="1.28" fill="#bebebe"/>
<circle cx="419.07" cy="239.33" r="1.28" fill="#bebebe"/>
<circle cx="421.34" cy="238.8" r="1.28" fill="#bebebe"/>
<circle cx="423.37" cy="238.85" r="1.28" fill="#bebebe"/>
<circle cx="420.72" cy="240.88" r="1.28" fill="#bebebe"/>
<circle cx="429.9" cy="96.7" r="1.28" fill="#bebebe"/>
<circle cx="429.2" cy="122.1" r="1.28" fill="#bebebe"/>
<circle cx="430.3" cy="138.7" r="1.28" fill="#bebebe"/>
<circle cx="417" cy="145.9" r="1.28" fill="#bebebe"/>
<circle cx="417" cy="151.1" r="1.28" fill="#bebebe"/>
<circle cx="418.3" cy="150.5" r="1.28" fill="#bebebe"/>
<circle cx="418.3" cy="157.9" r="1.28" fill="#bebebe"/>
<circle cx="427.4" cy="157.9" r="1.28" fill="#bebebe"/>
<circle cx="429.6" cy="157.8" r="1.28" fill="#bebebe"/>
<circle cx="427.9" cy="170.5" r="1.28" fill="#bebebe"/>
<circle cx="419.2" cy="172.9" r="1.28" fill="#bebebe"/>
<circle cx="419" cy="175.7" r="1.28" fill="#bebebe"/>
<circle cx="425.7" cy="175.2" r="1.28" fill="#bebebe"/>
<circle cx="327.8" cy="222.8" r="1.28" fill="#bebebe"/>
<circle cx="376.7" cy="222.9" r="1.28" fill="#bebebe"/>
<circle cx="373" cy="224.6" r="1.28" fill="#bebebe"/>
<circle cx="371.9" cy="226.8" r="1.28" fill="#bebebe"/>
<circle cx="374.9" cy="228.9" r="1.28" fill="#bebebe"/>
<circle cx="385.7" cy="228.7" r="1.28" fill="#bebebe"/>
<circle cx="390.4" cy="228.2" r="1.28" fill="#bebebe"/>
<circle cx="394.1" cy="229.1" r="1.28" fill="#bebebe"/>
<circle cx="394.5" cy="216.2" r="1.28" fill="#bebebe"/>
<circle cx="395.1" cy="217.1" r="1.28" fill="#bebebe"/>
<circle cx="396" cy="212.6" r="1.28" fill="#bebebe"/>
<circle cx="394.7" cy="222.9" r="1.28" fill="#bebebe"/>
<circle cx="395.4" cy="224" r="1.28" fill="#bebebe"/>
<circle cx="394.3" cy="225.7" r="1.28" fill="#bebebe"/>
<circle cx="398.8" cy="221.8" r="1.28" fill="#bebebe"/>
<circle cx="399.4" cy="223.1" r="1.28" fill="#bebebe"/>
<circle cx="398.8" cy="228" r="1.28" fill="#bebebe"/>
<circle cx="402.7" cy="221.8" r="1.28" fill="#bebebe"/>
<circle cx="401.6" cy="225.7" r="1.28" fill="#bebebe"/>
<circle cx="402.7" cy="227.4" r="1.28" fill="#bebebe"/>
<circle cx="403.8" cy="213.4" r="1.28" fill="#bebebe"/>
<circle cx="405" cy="214.5" r="1.28" fill="#bebebe"/>
<circle cx="406.1" cy="222.9" r="1.28" fill="#bebebe"/>
<circle cx="406.6" cy="228" r="1.28" fill="#bebebe"/>
<circle cx="411.1" cy="216.2" r="1.28" fill="#bebebe"/>
<circle cx="411.7" cy="233.6" r="1.28" fill="#bebebe"/>
<circle cx="442.4" cy="214.9" r="1.28" fill="#bebebe"/>
<circle cx="446.1" cy="215.9" r="1.28" fill="#bebebe"/>
<circle cx="440.7" cy="220" r="1.28" fill="#bebebe"/>
<circle cx="449.6" cy="220" r="1.28" fill="#bebebe"/>
<circle cx="451" cy="224.2" r="1.28" fill="#bebebe"/>
<circle cx="439.3" cy="223.7" r="1.28" fill="#bebebe"/>
<circle cx="469.1" cy="227.9" r="1.28" fill="#bebebe"/>
<circle cx="456.3" cy="230.9" r="1.28" fill="#bebebe"/>
<circle cx="437.2" cy="229.9" r="1.28" fill="#bebebe"/>
<circle cx="436.2" cy="234" r="1.28" fill="#bebebe"/>
<circle cx="435.2" cy="220.7" r="1.28" fill="#bebebe"/>
<circle cx="430.9" cy="233.4" r="1.28" fill="#bebebe"/>
<circle cx="440.7" cy="225.9" r="1.28" fill="#bebebe"/>
<circle cx="432.1" cy="213.6" r="1.28" fill="#bebebe"/>
<circle cx="434.9" cy="218.3" r="1.28" fill="#bebebe"/>
<circle cx="433.5" cy="226.5" r="1.28" fill="#bebebe"/>
<circle cx="431.5" cy="229.5" r="1.28" fill="#bebebe"/>
<circle cx="404.8" cy="121.8" r="1.28" fill="#00ee00"/>
<circle cx="402" cy="124.5" r="1.28" fill="#00ee00"/>
<circle cx="402.9" cy="138.3" r="1.28" fill="#00ee00"/>
<circle cx="402.2" cy="139.2" r="1.28" fill="#00ee00"/>
<circle cx="401.7" cy="147.5" r="1.28" fill="#00ee00"/>
<circle cx="406.6" cy="150" r="1.28" fill="#00ee00"/>
<circle cx="411" cy="147" r="1.28" fill="#00ee00"/>
<circle cx="411.4" cy="163.1" r="1.28" fill="#00ee00"/>
<circle cx="412.2" cy="168.4" r="1.28" fill="#00ee00"/>
<circle cx="402.2" cy="171" r="1.28" fill="#00ee00"/>
<circle cx="405.9" cy="173.6" r="1.28" fill="#00ee00"/>
<circle cx="408.9" cy="173.9" r="1.28" fill="#00ee00"/>
<circle cx="411.8" cy="177.3" r="1.28" fill="#00ee00"/>
<circle cx="412.6" cy="179.4" r="1.28" fill="#00ee00"/>
<circle cx="411.7" cy="186.5" r="1.28" fill="#00ee00"/>
<circle cx="412.7" cy="193" r="1.28" fill="#00ee00"/>
<circle cx="395.6" cy="189.9" r="1.28" fill="#00ee00"/>
<circle cx="393" cy="195.1" r="1.28" fill="#00ee00"/>
<circle cx="411.1" cy="198.6" r="1.28" fill="#00ee00"/>
<circle cx="407.8" cy="200.1" r="1.28" fill="#00ee00"/>
<circle cx="401.1" cy="201.6" r="1.28" fill="#00ee00"/>
<circle cx="374" cy="202.2" r="1.28" fill="#00ee00"/>
<circle cx="393.8" cy="205.5" r="1.28" fill="#00ee00"/>
<circle cx="408" cy="208.7" r="1.28" fill="#00ee00"/>
<circle cx="409.8" cy="208.7" r="1.28" fill="#00ee00"/>
<circle cx="411.2" cy="210.5" r="1.28" fill="#00ee00"/>
<circle cx="435.4" cy="29.7" r="1.28" fill="#ee0000"/>
<circle cx="434.7" cy="85.7" r="1.28" fill="#ee0000"/>
<circle cx="432.2" cy="162.6" r="1.28" fill="#ee0000"/>
<circle cx="432.1" cy="178" r="1.28" fill="#ee0000"/>
<circle cx="434.8" cy="180.4" r="1.28" fill="#ee0000"/>
<circle cx="435.9" cy="180.9" r="1.28" fill="#ee0000"/>
<circle cx="437.1" cy="180.4" r="1.28" fill="#ee0000"/>
<circle cx="437.5" cy="187.1" r="1.28" fill="#ee0000"/>
<circle cx="432.3" cy="189.8" r="1.28" fill="#ee0000"/>
<circle cx="436.6" cy="190.9" r="1.28" fill="#ee0000"/>
<circle cx="438" cy="204.8" r="1.28" fill="#ee0000"/>
<circle cx="432.2" cy="207.8" r="1.28" fill="#ee0000"/>
<circle cx="433.7" cy="211.2" r="1.28" fill="#ee0000"/>
<circle cx="457.6" cy="209.8" r="1.28" fill="#ee0000"/>
<rect x="309.6" y="13.9" width="196.9" height="237.3" fill="none" stroke="#cbcbcb" stroke-width="1.35"/>
<line x1="327.7" y1="251.2" x2="327.7" y2="252.8" stroke="#4d4d4d" stroke-width="0.6"/>
<text x="0" y="0" class="tk" text-anchor="middle" transform="translate(327.7,257.15) scale(1,1.08)">&#8722;10</text>
<line x1="374.95" y1="251.2" x2="374.95" y2="252.8" stroke="#4d4d4d" stroke-width="0.6"/>
<text x="0" y="0" class="tk" text-anchor="middle" transform="translate(374.95,257.15) scale(1,1.08)">&#8722;5</text>
<line x1="422.2" y1="251.2" x2="422.2" y2="252.8" stroke="#4d4d4d" stroke-width="0.6"/>
<text x="0" y="0" class="tk" text-anchor="middle" transform="translate(422.2,257.15) scale(1,1.08)">0</text>
<line x1="469.45" y1="251.2" x2="469.45" y2="252.8" stroke="#4d4d4d" stroke-width="0.6"/>
<text x="0" y="0" class="tk" text-anchor="middle" transform="translate(469.45,257.15) scale(1,1.08)">5</text>
<line x1="308" y1="240.2" x2="309.6" y2="240.2" stroke="#4d4d4d" stroke-width="0.6"/>
<text x="0" y="0" class="tk" text-anchor="end" transform="translate(307.2,242.1) scale(1,1.08)">0.0</text>
<line x1="308" y1="186.2" x2="309.6" y2="186.2" stroke="#4d4d4d" stroke-width="0.6"/>
<text x="0" y="0" class="tk" text-anchor="end" transform="translate(307.2,188.1) scale(1,1.08)">2.5</text>
<line x1="308" y1="132.2" x2="309.6" y2="132.2" stroke="#4d4d4d" stroke-width="0.6"/>
<text x="0" y="0" class="tk" text-anchor="end" transform="translate(307.2,134.1) scale(1,1.08)">5.0</text>
<line x1="308" y1="78.2" x2="309.6" y2="78.2" stroke="#4d4d4d" stroke-width="0.6"/>
<text x="0" y="0" class="tk" text-anchor="end" transform="translate(307.2,80.1) scale(1,1.08)">7.5</text>
<line x1="308" y1="24.2" x2="309.6" y2="24.2" stroke="#4d4d4d" stroke-width="0.6"/>
<text x="0" y="0" class="tk" text-anchor="end" transform="translate(307.2,26.1) scale(1,1.08)">10.0</text>
<text x="390.9" y="9.8" class="ti" textLength="34.8" lengthAdjust="spacingAndGlyphs">Volcano Plot</text>
<text x="0" y="0" class="at" text-anchor="middle" transform="translate(408.05,263.2) scale(1,1.08)">log2(Fold change)</text>
<text x="0" y="0" class="at" style="font-size:5.52px" text-anchor="middle" transform="translate(297.2,132.75) rotate(-90)">-log10(p-value)</text>
<text x="0" y="0" class="lt" transform="translate(514,121.1) scale(1,1.08)">threshold</text>
<rect x="515.2" y="123.2" width="6.4" height="25.8" fill="#f2f2f2"/>
<circle cx="518.4" cy="128.5" r="1.28" fill="#00ee00"/>
<text x="0" y="0" class="lx" transform="translate(524.9,130.1) scale(1,1.08)">DOWN</text>
<circle cx="518.4" cy="136.75" r="1.28" fill="#bebebe"/>
<text x="0" y="0" class="lx" transform="translate(524.9,138.35) scale(1,1.08)">NoChange</text>
<circle cx="518.4" cy="145" r="1.28" fill="#ee0000"/>
<text x="0" y="0" class="lx" transform="translate(524.9,146.6) scale(1,1.08)">UP</text>
</svg>
</body></html>
